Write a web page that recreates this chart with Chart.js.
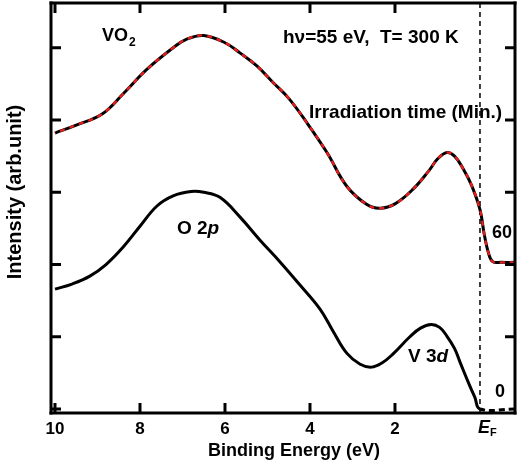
<!DOCTYPE html>
<html>
<head>
<meta charset="utf-8">
<script src="https://cdn.jsdelivr.net/npm/chart.js@4.4.1/dist/chart.umd.min.js"></script>
<style>
html,body{margin:0;padding:0;background:#fff;}
#wrap{width:520px;height:465px;position:relative;}
</style>
</head>
<body>
<div id="wrap"><canvas id="c" width="520" height="465"></canvas></div>
<script>
// Binding energy (eV) and intensity for irradiation time 60 min (offset spectrum)
const energy60 = [-0.82,-0.5,-0.3,-0.2,-0.1,0,0.2,0.4,0.6,0.78,1.0,1.2,1.58,2.0,2.35,2.66,3.13,3.6,4.07,4.5,4.87,5.25,5.65,6.0,6.5,6.9,7.22,7.84,8.4,8.9,9.5,10.0];
const intensity60 = [2.03,2.03,2.04,2.16,2.42,2.76,3.1,3.33,3.5,3.55,3.46,3.3,3.04,2.84,2.78,2.83,3.08,3.55,3.96,4.3,4.52,4.75,4.93,5.07,5.17,5.12,5.0,4.7,4.36,4.08,3.93,3.82];
// Binding energy (eV) and intensity for irradiation time 0 min
const energy0 = [-0.82,0,0.12,0.24,0.47,0.6,0.78,0.95,1.15,1.4,1.65,2.05,2.3,2.55,2.82,3.13,3.45,3.76,4.24,4.71,5.18,5.65,6.12,6.5,6.8,7.22,7.6,8.0,8.4,8.8,9.18,9.6,10.0];
const intensity0 = [0,0,0.16,0.32,0.65,0.84,1.01,1.13,1.17,1.12,1.0,0.76,0.64,0.58,0.62,0.77,1.07,1.38,1.72,2.04,2.34,2.66,2.93,3.0,3.01,2.95,2.81,2.53,2.24,2.0,1.84,1.73,1.66];
const xTicks = [10,8,6,4,2,0];
const xTickLabels = ['10','8','6','4','2',''];
const yTicks = [0,1,2,3,4,5];
const yTicksRight = [1,2,3,4,5];

const FONT = '"Liberation Sans", Arial, sans-serif';
const toPts = (xs, ys) => xs.map((x,i)=>({x:x, y:ys[i]}));
const XMIN=-0.824, XMAX=10.094, YMIN=-0.055, YMAX=5.62;

const deco = {
  id:'deco',
  beforeDatasetsDraw(chart){
    const {ctx, chartArea:a, scales:{x}} = chart;
    const px = x.getPixelForValue(0);
    ctx.save();
    ctx.strokeStyle='#000'; ctx.lineWidth=1.5; ctx.setLineDash([5,4]);
    ctx.beginPath(); ctx.moveTo(px,a.top); ctx.lineTo(px,a.bottom); ctx.stroke();
    ctx.restore();
  },
  afterDraw(chart){
    const {ctx, chartArea:a, scales:{x,y}} = chart;
    const l=Math.round(a.left), r=Math.round(a.right), t=Math.round(a.top), b=Math.round(a.bottom);
    ctx.save();
    ctx.setLineDash([]);
    ctx.strokeStyle='#000'; ctx.lineWidth=3; ctx.lineCap='square';
    const segs = [[l,t,r,t],[r,t,r,b],[r,b,l,b],[l,b,l,t]];
    segs.forEach(s=>{ ctx.beginPath(); ctx.moveTo(s[0],s[1]); ctx.lineTo(s[2],s[3]); ctx.stroke(); });
    ctx.lineCap='butt';
    const L=10;
    ctx.beginPath();
    xTicks.forEach(v=>{ if(v===0) return; const p=x.getPixelForValue(v);
      ctx.moveTo(p,b); ctx.lineTo(p,b-L); ctx.moveTo(p,t); ctx.lineTo(p,t+L); });
    yTicks.forEach(v=>{ const p=y.getPixelForValue(v); ctx.moveTo(l,p); ctx.lineTo(l+L,p); });
    yTicksRight.forEach(v=>{ const p=y.getPixelForValue(v); ctx.moveTo(r,p); ctx.lineTo(r-L,p); });
    ctx.stroke();

    ctx.fillStyle='#000';
    ctx.textBaseline='middle'; ctx.textAlign='left';
    ctx.font='bold 18px '+FONT;
    ctx.fillText('VO',102,36);
    let w=ctx.measureText('VO').width;
    ctx.font='bold 12px '+FONT;
    ctx.fillText('2',102+w+1,43);
    ctx.font='bold 19px '+FONT;
    ctx.fillText('h\u03bd=55 eV,  T= 300 K',283,38);
    ctx.fillText('Irradiation time (Min.)',309,113);
    ctx.font='bold 18px '+FONT;
    ctx.fillText('60',492,233);
    ctx.fillText('0',495,392);
    ctx.font='bold 19px '+FONT;
    ctx.fillText('O 2',177,229);
    w=ctx.measureText('O 2').width;
    ctx.font='italic bold 19px '+FONT;
    ctx.fillText('p',177+w,229);
    ctx.font='bold 19px '+FONT;
    ctx.fillText('V 3',408,357);
    w=ctx.measureText('V 3').width;
    ctx.font='italic bold 19px '+FONT;
    ctx.fillText('d',408+w,357);
    const p0 = x.getPixelForValue(0);
    ctx.font='italic bold 18px '+FONT;
    ctx.fillText('E',p0-2,428);
    w=ctx.measureText('E').width;
    ctx.font='bold 11px '+FONT;
    ctx.fillText('F',p0-2+w,433);
    ctx.font='bold 18px '+FONT; ctx.textAlign='center';
    ctx.fillText('Binding Energy (eV)',294,451);
    ctx.translate(15,192); ctx.rotate(-Math.PI/2);
    ctx.font='bold 20px '+FONT;
    ctx.fillText('Intensity (arb.unit)',0,0);
    ctx.restore();
  }
};

new Chart(document.getElementById('c'), {
  type:'line',
  data:{ datasets:[
    { data: toPts(energy60,intensity60), borderColor:'rgb(228,30,30)', borderWidth:2.4, borderDash:[5,5], pointRadius:0, tension:0.4, order:0 },
    { data: toPts(energy60,intensity60), borderColor:'#000', borderWidth:3, pointRadius:0, tension:0.4, order:1 },
    { data: toPts(energy0,intensity0), borderColor:'#000', borderWidth:3, pointRadius:0, tension:0.4, order:2,
      segment:{ borderDash: c => (c.p1.parsed.x<=0 ? [6,4] : undefined) } }
  ]},
  options:{
    responsive:false, animation:false, devicePixelRatio:1,
    layout:{ padding:{ left:51, right:5, top:3, bottom:0 } },
    plugins:{ legend:{display:false}, tooltip:{enabled:false} },
    scales:{
      x:{ type:'linear', reverse:true, min:XMIN, max:XMAX,
        grid:{display:false, drawTicks:false}, border:{display:false},
        afterBuildTicks: s => { s.ticks = xTicks.map(v=>({value:v})); },
        afterFit: s => { s.height = 52; },
        ticks:{ color:'#000', font:{family:FONT, size:17, weight:'bold'}, padding:6, maxRotation:0, autoSkip:false,
          callback: (v) => { const i = xTicks.indexOf(v); return i>=0 ? xTickLabels[i] : ''; } } },
      y:{ type:'linear', display:false, min:YMIN, max:YMAX }
    }
  },
  plugins:[deco]
});
</script>
</body>
</html>
